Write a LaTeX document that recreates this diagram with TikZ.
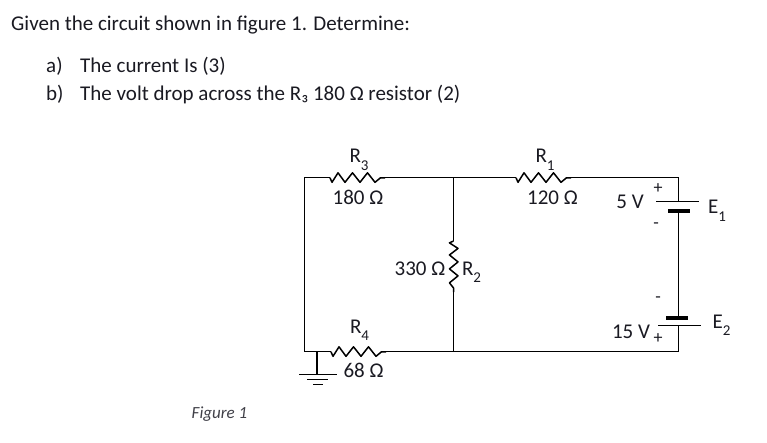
\documentclass[tikz,border=0pt]{standalone}
\usepackage{fontspec}
\setmainfont{Carlito}
\definecolor{ink}{HTML}{1A1A22}
\definecolor{cap}{HTML}{404048}
\newcommand{\sbs}[1]{\raisebox{-7.5pt}{\fontsize{15}{15}\selectfont #1}}
\tikzset{
  wire/.style={line width=1.2pt,black,line join=miter},
  zig/.style={line width=1.5pt,black,line join=round},
  plate/.style={line width=1.4pt,black},
  thickplate/.style={line width=3.8pt,black},
  para/.style={anchor=base west,inner sep=0pt,font=\fontsize{21}{25}\selectfont,text=ink},
  lab/.style={anchor=base,inner sep=0pt,font=\fontsize{21}{25}\selectfont,text=ink},
  capt/.style={anchor=base west,inner sep=0pt,font=\fontsize{17}{20}\selectfont\itshape,text=cap},
  sign/.style={anchor=center,inner sep=0pt,font=\fontsize{18}{20}\selectfont,text=ink},
  pics/reszig/.style={code={
    \draw[zig] (0,0) -- (2,4.5) -- (8,-5) -- (15,4.5) -- (22.5,-5) -- (30,4.5) -- (37.5,-5) -- (45,4.5) -- (50.5,0) -- (55,0);
    \coordinate (-a) at (0,0);
    \coordinate (-b) at (55,0);
  }}
}
\begin{document}
\begin{tikzpicture}[x=1pt,y=-1pt]
\useasboundingbox (0,0) rectangle (767,443);
\fill[white] (0,0) rectangle (767,443);
% text block
\node[para] (t0) at (11,30.7) {Given the circuit shown in figure 1. Determine:};
\node[para] (ta) at (46,72.7) {a)};
\node[para] (ta2) at (80,72.7) {The current Is (3)};
\node[para] (tb) at (46,100.7) {b)};
\node[para] (tb2) at (80,100.7) {The volt drop across the R₃ 180 Ω resistor (2)};
\node[capt] (fig) at (191.5,418) {Figure 1};
% junctions
\coordinate (tl) at (304.5,177.8);
\coordinate (bl) at (304.5,351.8);
\coordinate (tm) at (453.5,177.8);
\coordinate (bm) at (453.5,351.8);
\coordinate (tr) at (678.2,177.8);
\coordinate (br) at (678.2,351.8);
\coordinate (g) at (317,351.8);
\coordinate (g0) at (317,374.5);
% resistors
\pic (R3) at (330,177.8) {reszig};
\pic (R1) at (516,177.8) {reszig};
\pic (R4) at (331,351.8) {reszig};
\pic[rotate=-90,yscale=.9,xscale=.93] (R2) at (453.5,241) {reszig};
% batteries
\coordinate (e1a) at (678.2,201.7);
\coordinate (e1b) at (678.2,210.7);
\coordinate (e2a) at (678.2,317.7);
\coordinate (e2b) at (678.2,325.7);
\draw[plate] (656,201.7) -- (699,201.7);
\draw[thickplate] (668,210.7) -- (690,210.7);
\draw[thickplate] (666,317.7) -- (688,317.7);
\draw[plate] (658,325.7) -- (701,325.7);
% wires
\draw[wire] (R3-a) -- (tl) -- (bl) -- (R4-a);
\draw[wire] (R3-b) -- (R1-a);
\draw[wire] (R1-b) -- (tr) -- (e1a);
\draw[wire] (e1b) -- (e2a);
\draw[wire] (e2b) -- (br) -- (R4-b);
\draw[wire] (tm) -- (R2-a);
\draw[wire] (R2-b) -- (bm);
% ground
\draw[wire] (g) -- (g0);
\draw[plate] (299,374.5) -- (337,374.5);
\draw[plate] (307,379.3) -- (328,379.3);
\draw[plate] (313,384.3) -- (323,384.3);
% labels
\node[lab] (lr3) at (359,163) {R\sbs{3}};
\node[lab] (v3) at (358,205) {180 Ω};
\node[lab] (lr1) at (545,163) {R\sbs{1}};
\node[lab] (v1) at (552.5,205) {120 Ω};
\node[lab] (lr4) at (359.5,333) {R\sbs{4}};
\node[lab] (v4) at (363.5,377) {68 Ω};
\node[lab] (v2) at (420,276) {330 Ω};
\node[lab] (lr2) at (471.5,275) {R\sbs{2}};
\node[lab] (v5) at (630,209) {5 V};
\node[lab] (v15) at (631,338) {15 V};
\node[lab] (le1) at (717,214) {E\sbs{1}};
\node[lab] (le2) at (721.5,328) {E\sbs{2}};
\node[sign] (p1) at (658,189) {+};
\node[sign] (m1) at (656,226) {-};
\node[sign] (p2) at (658,339) {+};
\node[sign] (m2) at (658,300) {-};
\end{tikzpicture}
\end{document}
